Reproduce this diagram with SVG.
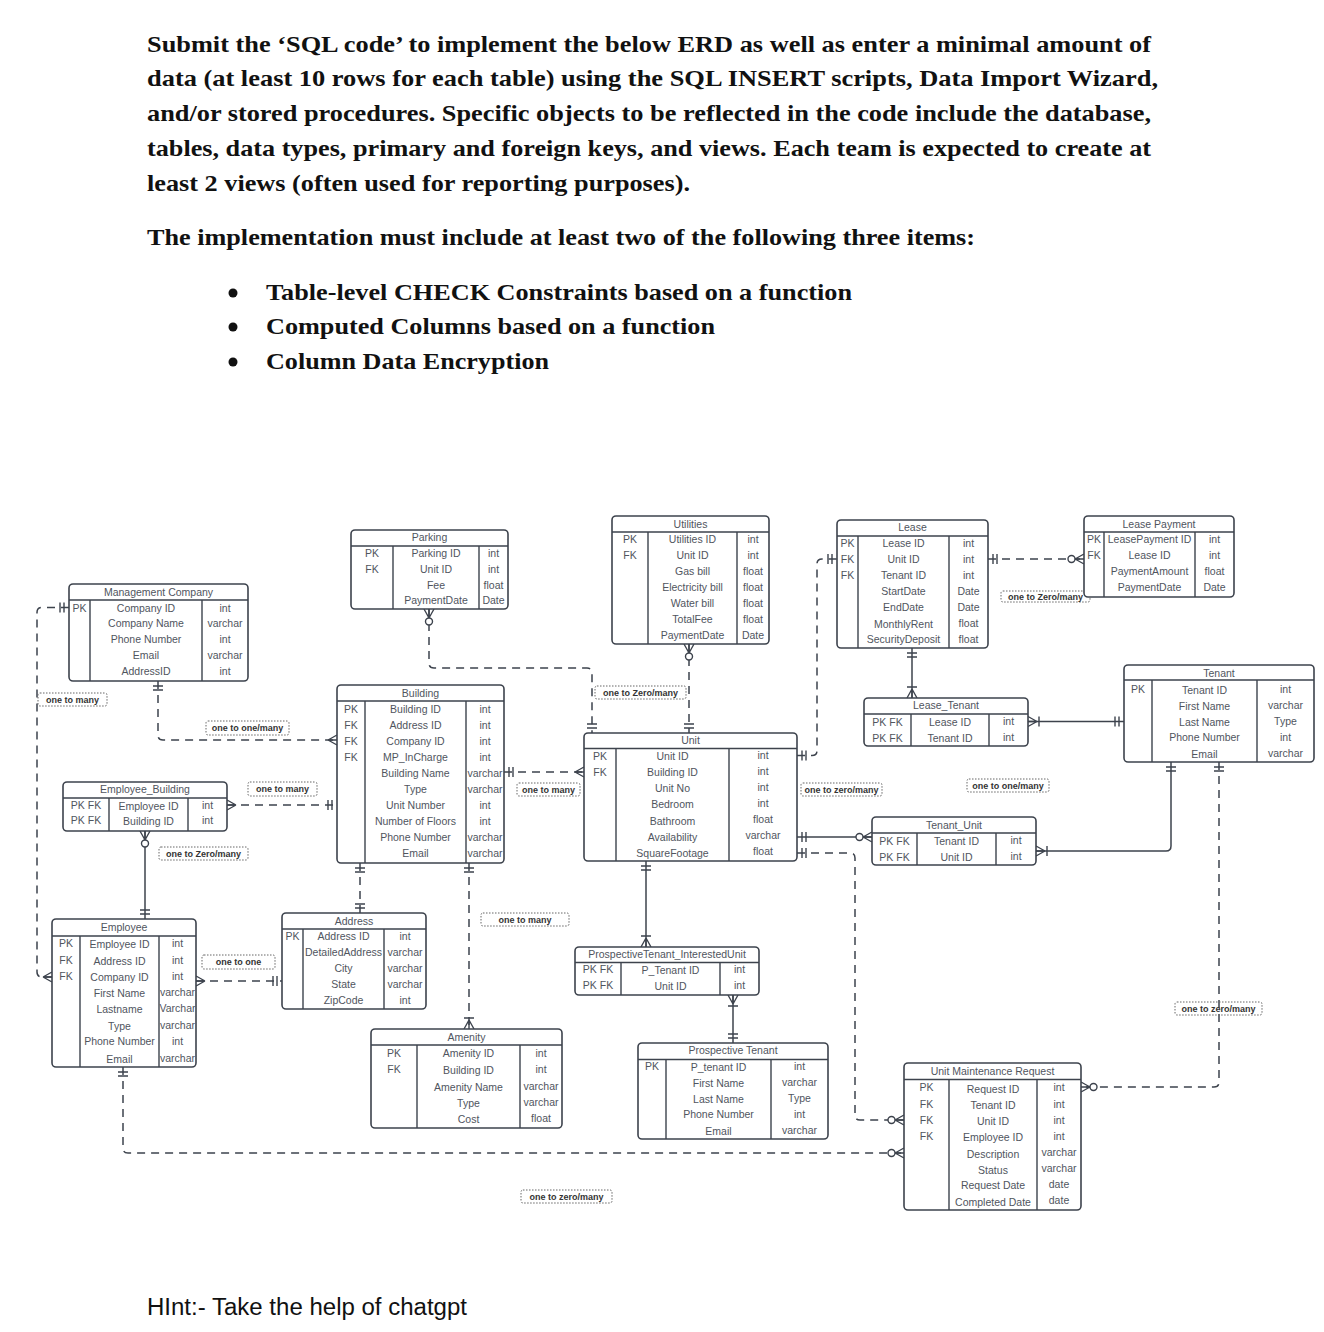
<svg xmlns="http://www.w3.org/2000/svg" width="1324" height="1332" viewBox="0 0 1324 1332">
<style>
.hd{font-family:"Liberation Serif","Times New Roman",serif;font-weight:bold;font-size:24px;fill:#111}
.hint{font-family:"Liberation Sans",Arial,sans-serif;font-size:23.5px;fill:#111}
.box{fill:#fff;stroke:#3d434d;stroke-width:1.6}
.ln{fill:none;stroke:#3d434d;stroke-width:1.4}
.t{font-family:"Liberation Sans",Arial,sans-serif;font-size:10.5px;fill:#50555e;text-anchor:middle;dominant-baseline:central}
.c{fill:none;stroke:#3d434d;stroke-width:1.5}
.d{stroke-dasharray:8 6}
.lb rect{fill:none;stroke:#666;stroke-width:1;stroke-dasharray:1.5 1.5}
.lb text{font-family:"Liberation Sans",Arial,sans-serif;font-weight:bold;font-size:9px;fill:#333;text-anchor:middle;dominant-baseline:central}
.mk{fill:none;stroke:#3d434d;stroke-width:1.4}
</style>
<defs>
<marker id="one" markerUnits="userSpaceOnUse" orient="auto-start-reverse" refX="0" refY="0" markerWidth="20" markerHeight="20" style="overflow:visible"><path class="mk" d="M-5,-5V5M-9,-5V5"/></marker>
<marker id="many" markerUnits="userSpaceOnUse" orient="auto-start-reverse" refX="0" refY="0" markerWidth="20" markerHeight="20" style="overflow:visible"><path class="mk" d="M-9,0L0,-5M-9,0L0,5M-9,0H0"/></marker>
<marker id="zmany" markerUnits="userSpaceOnUse" orient="auto-start-reverse" refX="0" refY="0" markerWidth="20" markerHeight="20" style="overflow:visible"><path class="mk" d="M-9,0L0,-5M-9,0L0,5M-9,0H0"/><circle cx="-12.5" cy="0" r="3.5" fill="#fff" stroke="#3d434d" stroke-width="1.4"/></marker>
<marker id="omany" markerUnits="userSpaceOnUse" orient="auto-start-reverse" refX="0" refY="0" markerWidth="20" markerHeight="20" style="overflow:visible"><path class="mk" d="M-9,0L0,-5M-9,0L0,5M-9,0H0M-11,-5V5"/></marker>
</defs>
<rect width="1324" height="1332" fill="#fff"/>

<g id="instructions">
<text class="hd" x="147" y="52" textLength="1004" lengthAdjust="spacingAndGlyphs">Submit the ‘SQL code’ to implement the below ERD as well as enter a minimal amount of</text>
<text class="hd" x="147" y="86" textLength="1011" lengthAdjust="spacingAndGlyphs">data (at least 10 rows for each table) using the SQL INSERT scripts, Data Import Wizard,</text>
<text class="hd" x="147" y="121" textLength="1004" lengthAdjust="spacingAndGlyphs">and/or stored procedures. Specific objects to be reflected in the code include the database,</text>
<text class="hd" x="147" y="156" textLength="1004" lengthAdjust="spacingAndGlyphs">tables, data types, primary and foreign keys, and views. Each team is expected to create at</text>
<text class="hd" x="147" y="191" textLength="543" lengthAdjust="spacingAndGlyphs">least 2 views (often used for reporting purposes).</text>
<text class="hd" x="147" y="245" textLength="828" lengthAdjust="spacingAndGlyphs">The implementation must include at least two of the following three items:</text>
<circle cx="233" cy="293" r="4.5" fill="#111"/>
<circle cx="233" cy="327" r="4.5" fill="#111"/>
<circle cx="233" cy="362" r="4.5" fill="#111"/>
<text class="hd" x="266" y="300" textLength="586" lengthAdjust="spacingAndGlyphs">Table-level CHECK Constraints based on a function</text>
<text class="hd" x="266" y="334" textLength="449" lengthAdjust="spacingAndGlyphs">Computed Columns based on a function</text>
<text class="hd" x="266" y="369" textLength="283" lengthAdjust="spacingAndGlyphs">Column Data Encryption</text>
<text class="hint" x="147" y="1315" textLength="320" lengthAdjust="spacingAndGlyphs">HInt:- Take the help of chatgpt</text>
</g>

<g id="connectors">
<path class="c d" d="M69,607.5H42Q37,607.5 37,612.5V972Q37,977 42,977H52" marker-start="url(#one)" marker-end="url(#many)"/>
<path class="c d" d="M158,681V735Q158,740 163,740H337" marker-start="url(#one)" marker-end="url(#many)"/>
<path class="c d" d="M227,805H337" marker-start="url(#many)" marker-end="url(#one)"/>
<path class="c" d="M145,831V919" marker-start="url(#zmany)" marker-end="url(#one)"/>
<path class="c d" d="M196,981H282" marker-start="url(#many)" marker-end="url(#one)"/>
<path class="c d" d="M360,863V913" marker-start="url(#one)" marker-end="url(#one)"/>
<path class="c d" d="M469,863V1029" marker-start="url(#one)" marker-end="url(#omany)"/>
<path class="c d" d="M429,609V663Q429,668 434,668H587Q592,668 592,673V733" marker-start="url(#zmany)" marker-end="url(#one)"/>
<path class="c d" d="M689,644V733" marker-start="url(#zmany)" marker-end="url(#one)"/>
<path class="c d" d="M504,772H584" marker-start="url(#one)" marker-end="url(#many)"/>
<path class="c d" d="M797,755.5H812Q817,755.5 817,750.5V564Q817,559 822,559H837" marker-start="url(#one)" marker-end="url(#one)"/>
<path class="c d" d="M988,559H1084" marker-start="url(#one)" marker-end="url(#zmany)"/>
<path class="c" d="M912,648V698" marker-start="url(#one)" marker-end="url(#omany)"/>
<path class="c" d="M1028,721.5H1124" marker-start="url(#omany)" marker-end="url(#one)"/>
<path class="c" d="M797,837H872" marker-start="url(#one)" marker-end="url(#zmany)"/>
<path class="c" d="M1171,762V846Q1171,851 1166,851H1036" marker-start="url(#one)" marker-end="url(#omany)"/>
<path class="c d" d="M797,853H850Q855,853 855,858V1115Q855,1120 860,1120H904" marker-start="url(#one)" marker-end="url(#zmany)"/>
<path class="c d" d="M123,1067V1148Q123,1153 128,1153H904" marker-start="url(#one)" marker-end="url(#zmany)"/>
<path class="c d" d="M1219,762V1082Q1219,1087 1214,1087H1081" marker-start="url(#one)" marker-end="url(#zmany)"/>
<path class="c" d="M646,861V947" marker-start="url(#one)" marker-end="url(#omany)"/>
<path class="c" d="M733,995V1043" marker-start="url(#omany)" marker-end="url(#one)"/>
</g>

<g id="labels" class="lb">
<rect x="38" y="693" width="69" height="13" rx="2"/><text x="72.5" y="699.5">one to many</text>
<rect x="206" y="721" width="83" height="14" rx="2"/><text x="247.5" y="728">one to one/many</text>
<rect x="248" y="782" width="69" height="14" rx="2"/><text x="282.5" y="789">one to many</text>
<rect x="159" y="847" width="89" height="13" rx="2"/><text x="203.5" y="853.5">one to Zero/many</text>
<rect x="202" y="955" width="73" height="14" rx="2"/><text x="238.5" y="962">one to one</text>
<rect x="517" y="783" width="63" height="13" rx="2"/><text x="548.5" y="789.5">one to many</text>
<rect x="595" y="686" width="91" height="13" rx="2"/><text x="640.5" y="692.5">one to Zero/many</text>
<rect x="481" y="913" width="88" height="13" rx="2"/><text x="525" y="919.5">one to many</text>
<rect x="801" y="783" width="81" height="13" rx="2"/><text x="841.5" y="789.5">one to zero/many</text>
<rect x="1001" y="591" width="89" height="11" rx="2"/><text x="1045.5" y="596.5">one to Zero/many</text>
<rect x="967" y="779" width="82" height="13" rx="2"/><text x="1008" y="785.5">one to one/many</text>
<rect x="1175" y="1002" width="87" height="13" rx="2"/><text x="1218.5" y="1008.5">one to zero/many</text>
<rect x="521" y="1190" width="91" height="13" rx="2"/><text x="566.5" y="1196.5">one to zero/many</text>
</g>

<g id="management-company">
<rect class="box" x="69" y="584" width="179" height="97" rx="4"/>
<path class="ln" d="M69,600H248M90,600V681M202,600V681"/>
<text class="t" x="158.5" y="591.5">Management Company</text>
<text class="t" x="79.5" y="607.5">PK</text>
<text class="t" x="146" y="607.5">Company ID</text><text class="t" x="225" y="607.5">int</text>
<text class="t" x="146" y="623">Company Name</text><text class="t" x="225" y="623">varchar</text>
<text class="t" x="146" y="639">Phone Number</text><text class="t" x="225" y="639">int</text>
<text class="t" x="146" y="655">Email</text><text class="t" x="225" y="655">varchar</text>
<text class="t" x="146" y="671">AddressID</text><text class="t" x="225" y="671">int</text>
</g>

<g id="parking">
<rect class="box" x="351" y="530" width="157" height="79" rx="4"/>
<path class="ln" d="M351,546H508M393,546V609M479,546V609"/>
<text class="t" x="429.5" y="537">Parking</text>
<text class="t" x="372" y="553">PK</text><text class="t" x="436" y="553">Parking ID</text><text class="t" x="493.5" y="553">int</text>
<text class="t" x="372" y="569">FK</text><text class="t" x="436" y="569">Unit ID</text><text class="t" x="493.5" y="569">int</text>
<text class="t" x="436" y="584.5">Fee</text><text class="t" x="493.5" y="584.5">float</text>
<text class="t" x="436" y="600">PaymentDate</text><text class="t" x="493.5" y="600">Date</text>
</g>

<g id="building">
<rect class="box" x="337" y="685" width="167" height="178" rx="4"/>
<path class="ln" d="M337,701H504M365,701V863M466,701V863"/>
<text class="t" x="420.5" y="692.5">Building</text>
<text class="t" x="351" y="708.5">PK</text><text class="t" x="415.5" y="708.5">Building ID</text><text class="t" x="485" y="708.5">int</text>
<text class="t" x="351" y="724.5">FK</text><text class="t" x="415.5" y="724.5">Address ID</text><text class="t" x="485" y="724.5">int</text>
<text class="t" x="351" y="740.5">FK</text><text class="t" x="415.5" y="740.5">Company ID</text><text class="t" x="485" y="740.5">int</text>
<text class="t" x="351" y="756.5">FK</text><text class="t" x="415.5" y="756.5">MP_InCharge</text><text class="t" x="485" y="756.5">int</text>
<text class="t" x="415.5" y="772.5">Building Name</text><text class="t" x="485" y="772.5">varchar</text>
<text class="t" x="415.5" y="788.5">Type</text><text class="t" x="485" y="788.5">varchar</text>
<text class="t" x="415.5" y="804.5">Unit Number</text><text class="t" x="485" y="804.5">int</text>
<text class="t" x="415.5" y="820.5">Number of Floors</text><text class="t" x="485" y="820.5">int</text>
<text class="t" x="415.5" y="836.5">Phone Number</text><text class="t" x="485" y="836.5">varchar</text>
<text class="t" x="415.5" y="852.5">Email</text><text class="t" x="485" y="852.5">varchar</text>
</g>

<g id="utilities">
<rect class="box" x="612" y="516" width="157" height="128" rx="4"/>
<path class="ln" d="M612,532H769M648,532V644M737,532V644"/>
<text class="t" x="690.5" y="523.5">Utilities</text>
<text class="t" x="630" y="539">PK</text><text class="t" x="692.5" y="539">Utilities ID</text><text class="t" x="753" y="539">int</text>
<text class="t" x="630" y="555">FK</text><text class="t" x="692.5" y="555">Unit ID</text><text class="t" x="753" y="555">int</text>
<text class="t" x="692.5" y="571">Gas bill</text><text class="t" x="753" y="571">float</text>
<text class="t" x="692.5" y="587">Electricity bill</text><text class="t" x="753" y="587">float</text>
<text class="t" x="692.5" y="603">Water bill</text><text class="t" x="753" y="603">float</text>
<text class="t" x="692.5" y="619">TotalFee</text><text class="t" x="753" y="619">float</text>
<text class="t" x="692.5" y="635">PaymentDate</text><text class="t" x="753" y="635">Date</text>
</g>

<g id="unit">
<rect class="box" x="584" y="733" width="213" height="128" rx="4"/>
<path class="ln" d="M584,748.5H797M616,748.5V861M729,748.5V861"/>
<text class="t" x="690.5" y="739.5">Unit</text>
<text class="t" x="600" y="755.5">PK</text><text class="t" x="672.5" y="755.5">Unit ID</text><text class="t" x="763" y="754.5">int</text>
<text class="t" x="600" y="772">FK</text><text class="t" x="672.5" y="772">Building ID</text><text class="t" x="763" y="771">int</text>
<text class="t" x="672.5" y="788">Unit No</text><text class="t" x="763" y="787">int</text>
<text class="t" x="672.5" y="804">Bedroom</text><text class="t" x="763" y="803">int</text>
<text class="t" x="672.5" y="820.5">Bathroom</text><text class="t" x="763" y="819">float</text>
<text class="t" x="672.5" y="836.5">Availability</text><text class="t" x="763" y="835">varchar</text>
<text class="t" x="672.5" y="852.5">SquareFootage</text><text class="t" x="763" y="851">float</text>
</g>

<g id="lease">
<rect class="box" x="837" y="520" width="151" height="128" rx="4"/>
<path class="ln" d="M837,536H988M858,536V648M949,536V648"/>
<text class="t" x="912.5" y="527">Lease</text>
<text class="t" x="847.5" y="543">PK</text><text class="t" x="903.5" y="543">Lease ID</text><text class="t" x="968.5" y="543">int</text>
<text class="t" x="847.5" y="559">FK</text><text class="t" x="903.5" y="559">Unit ID</text><text class="t" x="968.5" y="559">int</text>
<text class="t" x="847.5" y="575">FK</text><text class="t" x="903.5" y="575">Tenant ID</text><text class="t" x="968.5" y="575">int</text>
<text class="t" x="903.5" y="591">StartDate</text><text class="t" x="968.5" y="591">Date</text>
<text class="t" x="903.5" y="607">EndDate</text><text class="t" x="968.5" y="607">Date</text>
<text class="t" x="903.5" y="623.5">MonthlyRent</text><text class="t" x="968.5" y="622.5">float</text>
<text class="t" x="903.5" y="639">SecurityDeposit</text><text class="t" x="968.5" y="638.5">float</text>
</g>

<g id="lease-payment">
<rect class="box" x="1084" y="516" width="150" height="81" rx="4"/>
<path class="ln" d="M1084,532H1234M1104,532V597M1195,532V597"/>
<text class="t" x="1159" y="523.5">Lease Payment</text>
<text class="t" x="1094" y="539">PK</text><text class="t" x="1149.5" y="539">LeasePayment ID</text><text class="t" x="1214.5" y="539">int</text>
<text class="t" x="1094" y="555">FK</text><text class="t" x="1149.5" y="555">Lease ID</text><text class="t" x="1214.5" y="555">int</text>
<text class="t" x="1149.5" y="571">PaymentAmount</text><text class="t" x="1214.5" y="571">float</text>
<text class="t" x="1149.5" y="587">PaymentDate</text><text class="t" x="1214.5" y="587">Date</text>
</g>

<g id="lease-tenant">
<rect class="box" x="864" y="698" width="164" height="48" rx="4"/>
<path class="ln" d="M864,714H1028M911,714V746M989,714V746"/>
<text class="t" x="946" y="705">Lease_Tenant</text>
<text class="t" x="887.5" y="721.5">PK FK</text><text class="t" x="950" y="721.5">Lease ID</text><text class="t" x="1008.5" y="720.5">int</text>
<text class="t" x="887.5" y="737.5">PK FK</text><text class="t" x="950" y="737.5">Tenant ID</text><text class="t" x="1008.5" y="736.5">int</text>
</g>

<g id="tenant-unit">
<rect class="box" x="872" y="817" width="164" height="48" rx="4"/>
<path class="ln" d="M872,833H1036M917,833V865M996,833V865"/>
<text class="t" x="954" y="824.5">Tenant_Unit</text>
<text class="t" x="894.5" y="841">PK FK</text><text class="t" x="956.5" y="841">Tenant ID</text><text class="t" x="1016" y="840">int</text>
<text class="t" x="894.5" y="856.5">PK FK</text><text class="t" x="956.5" y="856.5">Unit ID</text><text class="t" x="1016" y="855.5">int</text>
</g>

<g id="tenant">
<rect class="box" x="1124" y="665" width="190" height="97" rx="4"/>
<path class="ln" d="M1124,680H1314M1152,680V762M1257,680V762"/>
<text class="t" x="1219" y="672.5">Tenant</text>
<text class="t" x="1138" y="688.5">PK</text>
<text class="t" x="1204.5" y="689.5">Tenant ID</text><text class="t" x="1285.5" y="688.5">int</text>
<text class="t" x="1204.5" y="705.5">First  Name</text><text class="t" x="1285.5" y="704.5">varchar</text>
<text class="t" x="1204.5" y="721.5">Last Name</text><text class="t" x="1285.5" y="721">Type</text>
<text class="t" x="1204.5" y="737">Phone Number</text><text class="t" x="1285.5" y="736.5">int</text>
<text class="t" x="1204.5" y="753.5">Email</text><text class="t" x="1285.5" y="752.5">varchar</text>
</g>

<g id="employee-building">
<rect class="box" x="63" y="782" width="164" height="49" rx="4"/>
<path class="ln" d="M63,798H227M109,798V831M188,798V831"/>
<text class="t" x="145" y="789">Employee_Building</text>
<text class="t" x="86" y="805">PK FK</text><text class="t" x="148.5" y="805.5">Employee ID</text><text class="t" x="207.5" y="804.5">int</text>
<text class="t" x="86" y="820">PK FK</text><text class="t" x="148.5" y="820.5">Building ID</text><text class="t" x="207.5" y="820">int</text>
</g>

<g id="employee">
<rect class="box" x="52" y="919" width="144" height="148" rx="4"/>
<path class="ln" d="M52,936H196M80,936V1067M159,936V1067"/>
<text class="t" x="124" y="927">Employee</text>
<text class="t" x="66" y="943">PK</text><text class="t" x="119.5" y="943.5">Employee ID</text><text class="t" x="177.5" y="943">int</text>
<text class="t" x="66" y="959.5">FK</text><text class="t" x="119.5" y="960.5">Address ID</text><text class="t" x="177.5" y="959.5">int</text>
<text class="t" x="66" y="975.5">FK</text><text class="t" x="119.5" y="977">Company ID</text><text class="t" x="177.5" y="975.5">int</text>
<text class="t" x="119.5" y="993">First Name</text><text class="t" x="177.5" y="992">varchar</text>
<text class="t" x="119.5" y="1009">Lastname</text><text class="t" x="177.5" y="1008">Varchar</text>
<text class="t" x="119.5" y="1025.5">Type</text><text class="t" x="177.5" y="1024.5">varchar</text>
<text class="t" x="119.5" y="1041">Phone Number</text><text class="t" x="177.5" y="1040.5">int</text>
<text class="t" x="119.5" y="1058.5">Email</text><text class="t" x="177.5" y="1057.5">varchar</text>
</g>

<g id="address">
<rect class="box" x="282" y="913" width="144" height="96" rx="4"/>
<path class="ln" d="M282,929H426M303,929V1009M384,929V1009"/>
<text class="t" x="354" y="920.5">Address</text>
<text class="t" x="292.5" y="935.5">PK</text><text class="t" x="343.5" y="936">Address ID</text><text class="t" x="405" y="936">int</text>
<text class="t" x="343.5" y="952">DetailedAddress</text><text class="t" x="405" y="952">varchar</text>
<text class="t" x="343.5" y="968">City</text><text class="t" x="405" y="968">varchar</text>
<text class="t" x="343.5" y="984">State</text><text class="t" x="405" y="984">varchar</text>
<text class="t" x="343.5" y="1000">ZipCode</text><text class="t" x="405" y="1000">int</text>
</g>

<g id="amenity">
<rect class="box" x="371" y="1029" width="191" height="99" rx="4"/>
<path class="ln" d="M371,1045H562M417,1045V1128M520,1045V1128"/>
<text class="t" x="466.5" y="1036.5">Amenity</text>
<text class="t" x="394" y="1052.5">PK</text><text class="t" x="468.5" y="1053">Amenity ID</text><text class="t" x="541" y="1052.5">int</text>
<text class="t" x="394" y="1069">FK</text><text class="t" x="468.5" y="1069.5">Building ID</text><text class="t" x="541" y="1069">int</text>
<text class="t" x="468.5" y="1086.5">Amenity Name</text><text class="t" x="541" y="1085.5">varchar</text>
<text class="t" x="468.5" y="1102.5">Type</text><text class="t" x="541" y="1101.5">varchar</text>
<text class="t" x="468.5" y="1119">Cost</text><text class="t" x="541" y="1117.5">float</text>
</g>

<g id="prospective-tenant-interested-unit">
<rect class="box" x="575" y="947" width="184" height="48" rx="4"/>
<path class="ln" d="M575,962.5H759M621,962.5V995M720,962.5V995"/>
<text class="t" x="667" y="953.5">ProspectiveTenant_InterestedUnit</text>
<text class="t" x="598" y="969">PK FK</text><text class="t" x="670.5" y="970">P_Tenant ID</text><text class="t" x="739.5" y="969">int</text>
<text class="t" x="598" y="985">PK FK</text><text class="t" x="670.5" y="986">Unit ID</text><text class="t" x="739.5" y="985">int</text>
</g>

<g id="prospective-tenant">
<rect class="box" x="638" y="1043" width="190" height="96" rx="4"/>
<path class="ln" d="M638,1059.5H828M666,1059.5V1139M771,1059.5V1139"/>
<text class="t" x="733" y="1050">Prospective Tenant</text>
<text class="t" x="652" y="1065.5">PK</text>
<text class="t" x="718.5" y="1067">P_tenant ID</text><text class="t" x="799.5" y="1065.5">int</text>
<text class="t" x="718.5" y="1083">First Name</text><text class="t" x="799.5" y="1082">varchar</text>
<text class="t" x="718.5" y="1099">Last Name</text><text class="t" x="799.5" y="1098">Type</text>
<text class="t" x="718.5" y="1113.5">Phone Number</text><text class="t" x="799.5" y="1113.5">int</text>
<text class="t" x="718.5" y="1131">Email</text><text class="t" x="799.5" y="1129.5">varchar</text>
</g>

<g id="unit-maintenance-request">
<rect class="box" x="904" y="1063" width="177" height="147" rx="4"/>
<path class="ln" d="M904,1079.5H1081M949,1079.5V1210M1037,1079.5V1210"/>
<text class="t" x="992.5" y="1070.5">Unit Maintenance Request</text>
<text class="t" x="926.5" y="1087">PK</text><text class="t" x="993" y="1088.5">Request ID</text><text class="t" x="1059" y="1087">int</text>
<text class="t" x="926.5" y="1104">FK</text><text class="t" x="993" y="1105">Tenant ID</text><text class="t" x="1059" y="1103.5">int</text>
<text class="t" x="926.5" y="1120">FK</text><text class="t" x="993" y="1121">Unit ID</text><text class="t" x="1059" y="1119.5">int</text>
<text class="t" x="926.5" y="1136">FK</text><text class="t" x="993" y="1137">Employee ID</text><text class="t" x="1059" y="1136">int</text>
<text class="t" x="993" y="1153.5">Description</text><text class="t" x="1059" y="1152">varchar</text>
<text class="t" x="993" y="1169.5">Status</text><text class="t" x="1059" y="1167.5">varchar</text>
<text class="t" x="993" y="1185">Request Date</text><text class="t" x="1059" y="1184">date</text>
<text class="t" x="993" y="1201.5">Completed Date</text><text class="t" x="1059" y="1200">date</text>
</g>
</svg>
